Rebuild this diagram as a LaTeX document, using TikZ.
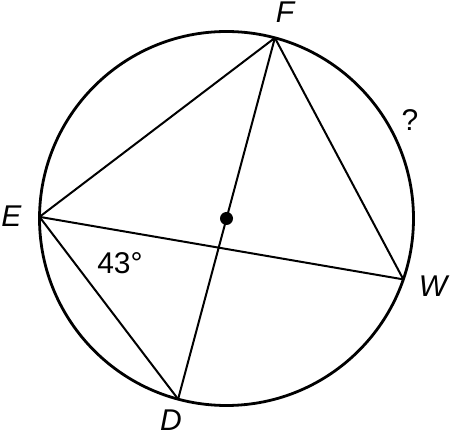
\documentclass[tikz,border=0pt]{standalone}
\usepackage{fontspec}
\setmainfont{Liberation Sans}
\usetikzlibrary{calc}
\begin{document}
\begin{tikzpicture}[x=1pt,y=1pt,
  lbl/.style={font=\fontsize{30}{30}\selectfont\itshape, inner sep=0pt},
  txt/.style={font=\fontsize{30}{30}\selectfont, inner sep=0pt},
  chord/.style={line width=2pt, line join=round},
  rim/.style={line width=2.8pt}]
\useasboundingbox (0,0) rectangle (450,436);
\coordinate (O) at (226.5,217.5);
\coordinate (F) at ($(O)+(75:187)$);
\coordinate (E) at ($(O)+(179.5:187)$);
\coordinate (W) at ($(O)+(-19:187)$);
\coordinate (D) at ($(O)+(255:187)$);
\draw[rim] (O) circle[radius=187pt];
\draw[chord] (E) -- (F);
\draw[chord] (F) -- (W);
\draw[chord] (E) -- (W);
\draw[chord] (E) -- (D);
\draw[chord] (D) -- (F);
\fill (O) circle[radius=6.5pt];
\node[lbl] (lF) at (285,423.5) {F};
\node[lbl] (lE) at (11.5,220) {E};
\node[lbl] (lW) at (433,150) {W};
\node[lbl] (lD) at (171,15.5) {D};
\node[txt] (lq) at (410,316) {?};
\node[txt] (la) at (120,173) {43°};
\end{tikzpicture}
\end{document}
